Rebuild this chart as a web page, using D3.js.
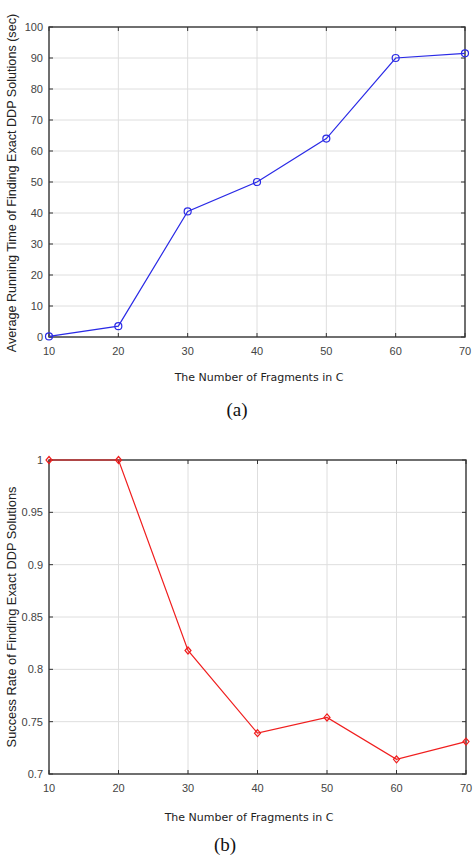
<!DOCTYPE html>
<html>
<head>
<meta charset="utf-8">
<script src="https://cdn.jsdelivr.net/npm/d3@7"></script>
<style>
  body { margin: 0; background: #fff; }
  svg { display: block; }
  .tick-label { font-family: "Liberation Sans", Arial, sans-serif; font-size: 11px; fill: #444; }
  .axis-title { font-family: "DejaVu Sans", Verdana, sans-serif; font-size: 11px; fill: #222; }
  .y-title { font-family: "Liberation Sans", Arial, sans-serif; fill: #222; }
  .caption { font-family: "Liberation Serif", "Times New Roman", serif; font-size: 19px; fill: #111; }
</style>
</head>
<body>
<div id="chart"></div>
<script>
const fragments = [10, 20, 30, 40, 50, 60, 70];
const runningTime = [0.2, 3.5, 40.5, 50, 64, 90, 91.5];
const successRate = [1, 1, 0.818, 0.739, 0.754, 0.714, 0.731];
const xTicks = [10, 20, 30, 40, 50, 60, 70];
const timeTicks = [0, 10, 20, 30, 40, 50, 60, 70, 80, 90, 100];
const rateTicks = [0.7, 0.75, 0.8, 0.85, 0.9, 0.95, 1];

const width = 474;
const height = 855;

const svg = d3.select("#chart").append("svg")
  .attr("width", width)
  .attr("height", height);

function drawPanel(opts) {
  const { left, right, top, bottom, yDomain, yTicks, values, color, marker, yFormat, yTitle, yTitleSize, yTitleCenter, xTitleX, xTitleY, caption, captionX, captionY } = opts;
  const x = d3.scaleLinear().domain([10, 70]).range([left, right]);
  const y = d3.scaleLinear().domain(yDomain).range([bottom, top]);
  const g = svg.append("g");

  // grid
  g.selectAll(".vgrid")
    .data(xTicks.slice(1, -1))
    .join("line")
    .attr("x1", d => x(d)).attr("x2", d => x(d))
    .attr("y1", top).attr("y2", bottom)
    .attr("stroke", "#dedede").attr("stroke-width", 1);
  g.selectAll(".hgrid")
    .data(yTicks.slice(1, -1))
    .join("line")
    .attr("x1", left).attr("x2", right)
    .attr("y1", d => y(d)).attr("y2", d => y(d))
    .attr("stroke", "#dedede").attr("stroke-width", 1);

  // inward ticks on all four sides
  const tl = 4;
  xTicks.forEach(t => {
    g.append("line").attr("x1", x(t)).attr("x2", x(t)).attr("y1", bottom).attr("y2", bottom - tl).attr("stroke", "#333");
    g.append("line").attr("x1", x(t)).attr("x2", x(t)).attr("y1", top).attr("y2", top + tl).attr("stroke", "#333");
  });
  yTicks.forEach(t => {
    g.append("line").attr("x1", left).attr("x2", left + tl).attr("y1", y(t)).attr("y2", y(t)).attr("stroke", "#333");
    g.append("line").attr("x1", right).attr("x2", right - tl).attr("y1", y(t)).attr("y2", y(t)).attr("stroke", "#333");
  });

  // box
  g.append("rect")
    .attr("x", left).attr("y", top)
    .attr("width", right - left).attr("height", bottom - top)
    .attr("fill", "none").attr("stroke", "#333").attr("stroke-width", 1.4);

  // tick labels
  g.selectAll(".xl")
    .data(xTicks)
    .join("text")
    .attr("class", "tick-label")
    .attr("x", d => x(d))
    .attr("y", bottom + 18)
    .attr("text-anchor", "middle")
    .text(d => d);
  g.selectAll(".yl")
    .data(yTicks)
    .join("text")
    .attr("class", "tick-label")
    .attr("x", left - 6)
    .attr("y", d => y(d) + 4)
    .attr("text-anchor", "end")
    .text(yFormat);

  // series
  const pts = fragments.map((f, i) => [f, values[i]]);
  g.append("path")
    .datum(pts)
    .attr("fill", "none")
    .attr("stroke", color)
    .attr("stroke-width", 1.2)
    .attr("d", d3.line().x(d => x(d[0])).y(d => y(d[1])));

  if (marker === "circle") {
    g.selectAll(".mk")
      .data(pts)
      .join("circle")
      .attr("cx", d => x(d[0])).attr("cy", d => y(d[1]))
      .attr("r", 3.5)
      .attr("fill", "none").attr("stroke", color).attr("stroke-width", 1.2);
  } else {
    g.selectAll(".mk")
      .data(pts)
      .join("path")
      .attr("transform", d => `translate(${x(d[0])},${y(d[1])})`)
      .attr("d", "M0,-3.5L3,0L0,3.5L-3,0Z")
      .attr("fill", "none").attr("stroke", color).attr("stroke-width", 1.2);
  }

  // titles
  g.append("text")
    .attr("class", "y-title")
    .attr("font-size", yTitleSize)
    .attr("transform", `translate(15.5,${yTitleCenter}) rotate(-90)`)
    .attr("text-anchor", "middle")
    .text(yTitle);
  g.append("text")
    .attr("class", "axis-title")
    .attr("x", xTitleX)
    .attr("y", xTitleY)
    .attr("text-anchor", "middle")
    .text("The Number of Fragments in C");
  g.append("text")
    .attr("class", "caption")
    .attr("x", captionX)
    .attr("y", captionY)
    .attr("text-anchor", "middle")
    .text(caption);
}

drawPanel({
  left: 49, right: 465, top: 27, bottom: 337,
  yDomain: [0, 100], yTicks: timeTicks, values: runningTime,
  color: "#2a2ae6", marker: "circle", yFormat: d => d,
  yTitle: "Average Running Time of Finding Exact DDP Solutions (sec)",
  yTitleSize: 12.6, yTitleCenter: 183,
  xTitleX: 259, xTitleY: 381,
  caption: "(a)", captionX: 237, captionY: 416
});

drawPanel({
  left: 49, right: 466, top: 460, bottom: 774,
  yDomain: [0.7, 1], yTicks: rateTicks, values: successRate,
  color: "#f01e1e", marker: "diamond", yFormat: d => d3.format("")(+d.toFixed(2)),
  yTitle: "Success Rate of Finding Exact DDP Solutions",
  yTitleSize: 12.8, yTitleCenter: 617,
  xTitleX: 249, xTitleY: 821,
  caption: "(b)", captionX: 225, captionY: 851
});
</script>
</body>
</html>
